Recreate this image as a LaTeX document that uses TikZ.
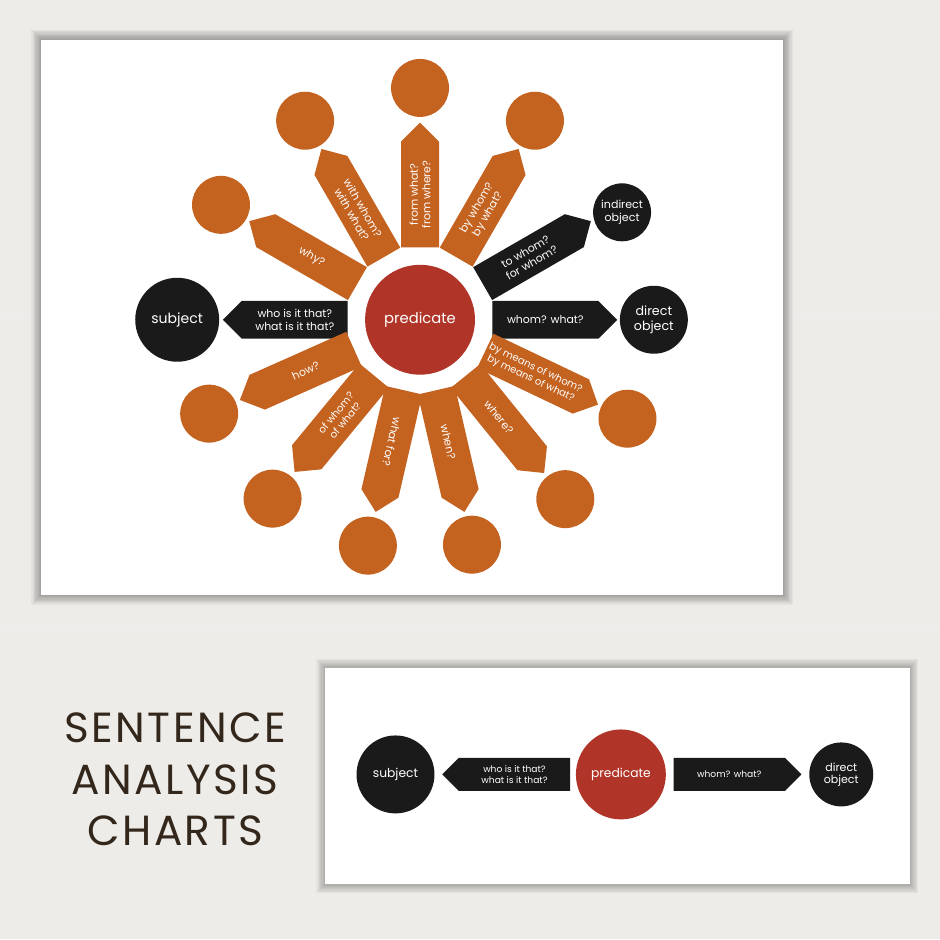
\documentclass[tikz,border=0pt]{standalone}
\usepackage{fontspec}
\setmainfont{Poppins}
\newfontfamily\titlefont[LetterSpace=6]{Poppins}
\usetikzlibrary{shapes.symbols,positioning}
\definecolor{rust}{HTML}{C46220}
\definecolor{brick}{HTML}{B03528}
\definecolor{ink}{HTML}{1A1A1A}
\definecolor{wood}{HTML}{EDECE9}
\definecolor{cocoa}{HTML}{33261B}
\tikzstyle{dot}=[circle,fill=rust,inner sep=0pt,minimum size=1.16cm]
\tikzstyle{pred}=[dot,fill=brick,text=white,minimum size=2.2cm,
  font=\fontsize{8.4}{10}\selectfont]
\tikzstyle{role}=[dot,fill=ink,text=white,align=center]
\tikzstyle{bar}=[signal,signal pointer angle=90,fill=rust,text=white,
  inner sep=0pt,minimum width=2.5cm,minimum height=.76cm,align=center,
  font=\fontsize{6.2}{7.2}\selectfont]
\tikzstyle{bar2}=[bar,fill=ink]
\tikzstyle{sbar}=[bar2,minimum width=2.56cm,minimum height=.66cm,
  font=\fontsize{5.2}{6}\selectfont]
\tikzstyle{fwd}=[signal to=east,anchor=west]
\tikzstyle{bwd}=[signal to=west,anchor=east]

\begin{document}
\begin{tikzpicture}[node distance=.14cm]
  \fill[wood] (-8.4,6.4) rectangle (10.4,-12.4);
  \draw[black!7] (-8.4,0) -- (10.4,0) (-8.4,-6.16) -- (10.4,-6.16);

  \foreach \s in {1,...,8}
    \fill[black,opacity=.045] ({-7.58-.025*\s},{5.6+.025*\s})
      rectangle ({7.26+.025*\s},{-5.5-.025*\s});
  \fill[white] (-7.58,5.6) rectangle (7.26,-5.5);

  \foreach \s in {1,...,7}
    \fill[black,opacity=.04] ({-1.9-.025*\s},{-6.96+.025*\s})
      rectangle ({9.8+.025*\s},{-11.3-.025*\s});
  \fill[white] (-1.9,-6.96) rectangle (9.8,-11.3);

  \node[pred] (p) at (0,0) {predicate};

  \node[bar2, fwd] (b0) at (0:1.44) {whom? what?};
  \node[bar2, fwd, rotate=30] (b30) at (30:1.44) {to whom?\\for whom?};
  \node[bar, fwd, rotate=60] (b60) at (60:1.44) {by whom?\\by what?};
  \node[bar, fwd, rotate=90] (b90) at (90:1.44) {from what?\\from where?};
  \node[bar, bwd, rotate=-60] (b120) at (120:1.44) {with whom?\\with what?};
  \node[bar, bwd, rotate=-30] (b150) at (150:1.44) {why?};
  \node[bar2, bwd] (b180) at (180:1.44) {who is it that?\\what is it that?};
  \node[bar, bwd, rotate=24] (b204) at (-156:1.44) {how?};
  \node[bar, bwd, rotate=50.5, font=\fontsize{5.8}{6.8}\selectfont]
    (b230) at (-129.5:1.44) {of whom?\\of what?};
  \node[bar, fwd, rotate=-103] (b257) at (-103:1.44) {what for?};
  \node[bar, fwd, rotate=-77] (b283) at (-77:1.44) {when?};
  \node[bar, fwd, rotate=-51] (b309) at (-51:1.44) {where?};
  \node[bar, fwd, rotate=-25.5, font=\fontsize{5.7}{6.6}\selectfont]
    (b334) at (-25.5:1.44) {by means of whom?\\by means of what?};

  \node[role, minimum size=1.68cm, font=\fontsize{8}{9}\selectfont]
    (subj) at (180:4.86) {subject};
  \node[role, minimum size=1.36cm, font=\fontsize{7.2}{9}\selectfont]
    (dobj) at (0:4.68) {direct\\object};
  \node[role, font=\fontsize{6.3}{7.5}\selectfont]
    (iobj) at (28:4.58) {indirect\\object};
  \node[dot] (c60) at (60:4.6) {};
  \node[dot] (c90) at (90:4.64) {};
  \node[dot] (c120) at (120:4.6) {};
  \node[dot] (c150) at (150:4.6) {};
  \node[dot] (c204) at (-156:4.62) {};
  \node[dot] (c230) at (-129.5:4.64) {};
  \node[dot] (c257) at (-103:4.64) {};
  \node[dot] (c283) at (-77:4.62) {};
  \node[dot] (c309) at (-51:4.62) {};
  \node[dot] (c334) at (-25.5:4.6) {};

  \node[text=cocoa, align=center, font=\titlefont\fontsize{24}{29.5}\selectfont]
    (title) at (-4.9,-9.2) {SENTENCE\\ANALYSIS\\CHARTS};

  \node[pred, minimum size=1.8cm, font=\fontsize{7}{8}\selectfont]
    (p2) at (4.02,-9.1) {predicate};
  \node[sbar, bwd, left=.1cm of p2] (l2) {who is it that?\\what is it that?};
  \node[role, minimum size=1.56cm, font=\fontsize{7}{8}\selectfont,
    left=of l2] (s2) {subject};
  \node[sbar, fwd, right=of p2] (r2) {whom? what?};
  \node[role, minimum size=1.28cm, font=\fontsize{6.3}{7}\selectfont,
    right=of r2] (d2) {direct\\object};
\end{tikzpicture}
\end{document}
